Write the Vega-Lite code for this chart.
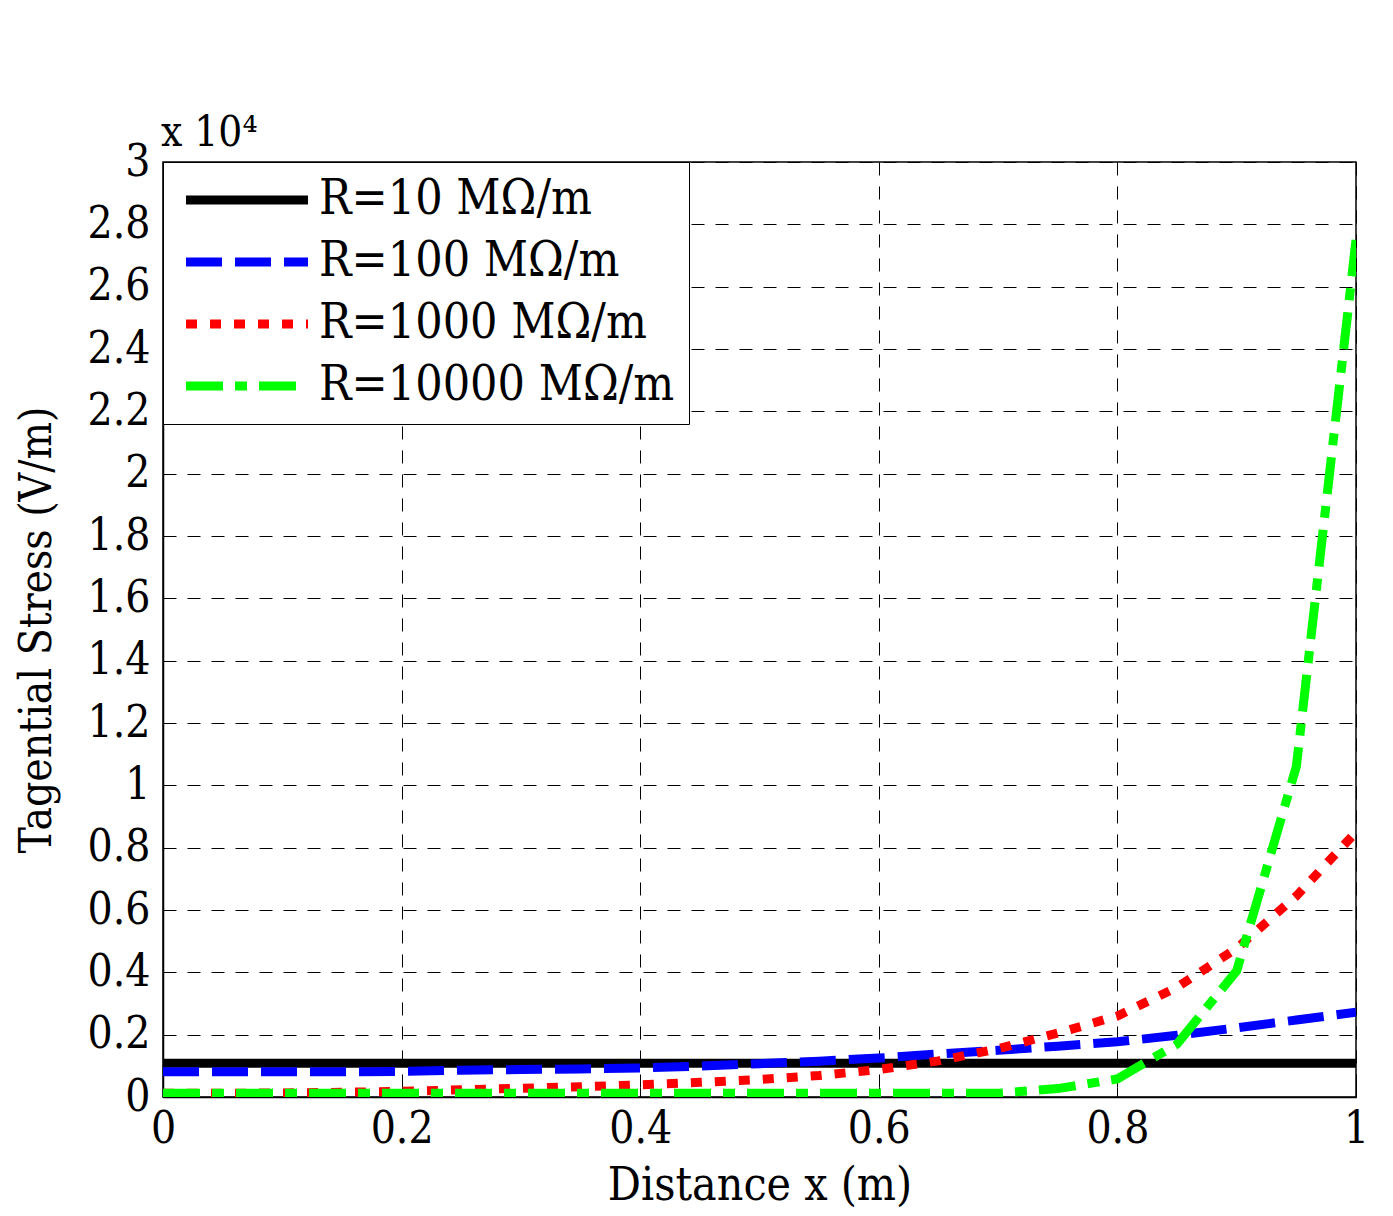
{
  "$schema": "https://vega.github.io/schema/vega-lite/v6.json",
  "width": 1193,
  "height": 935,
  "autosize": {"type": "none"},
  "padding": {"left": 163, "top": 162, "right": 37, "bottom": 119},
  "background": "white",
  "title": {
    "text": "x 10⁴",
    "anchor": "start",
    "frame": "group",
    "font": "DejaVu Serif Condensed",
    "fontSize": 42,
    "fontWeight": "normal",
    "color": "black",
    "offset": -15,
    "dx": -2
  },
  "data": {
    "values": [
      {"x": 0, "y": 0.108, "s": "R=10 MΩ/m"},
      {"x": 0.05, "y": 0.108, "s": "R=10 MΩ/m"},
      {"x": 0.1, "y": 0.108, "s": "R=10 MΩ/m"},
      {"x": 0.15, "y": 0.108, "s": "R=10 MΩ/m"},
      {"x": 0.2, "y": 0.108, "s": "R=10 MΩ/m"},
      {"x": 0.25, "y": 0.108, "s": "R=10 MΩ/m"},
      {"x": 0.3, "y": 0.108, "s": "R=10 MΩ/m"},
      {"x": 0.35, "y": 0.108, "s": "R=10 MΩ/m"},
      {"x": 0.4, "y": 0.108, "s": "R=10 MΩ/m"},
      {"x": 0.45, "y": 0.108, "s": "R=10 MΩ/m"},
      {"x": 0.5, "y": 0.108, "s": "R=10 MΩ/m"},
      {"x": 0.55, "y": 0.108, "s": "R=10 MΩ/m"},
      {"x": 0.6, "y": 0.108, "s": "R=10 MΩ/m"},
      {"x": 0.65, "y": 0.108, "s": "R=10 MΩ/m"},
      {"x": 0.7, "y": 0.108, "s": "R=10 MΩ/m"},
      {"x": 0.75, "y": 0.108, "s": "R=10 MΩ/m"},
      {"x": 0.8, "y": 0.108, "s": "R=10 MΩ/m"},
      {"x": 0.85, "y": 0.108, "s": "R=10 MΩ/m"},
      {"x": 0.9, "y": 0.108, "s": "R=10 MΩ/m"},
      {"x": 0.95, "y": 0.108, "s": "R=10 MΩ/m"},
      {"x": 1, "y": 0.108, "s": "R=10 MΩ/m"},

      {"x": 0, "y": 0.081, "s": "R=100 MΩ/m"},
      {"x": 0.05, "y": 0.081, "s": "R=100 MΩ/m"},
      {"x": 0.1, "y": 0.081, "s": "R=100 MΩ/m"},
      {"x": 0.15, "y": 0.081, "s": "R=100 MΩ/m"},
      {"x": 0.2, "y": 0.082, "s": "R=100 MΩ/m"},
      {"x": 0.25, "y": 0.086, "s": "R=100 MΩ/m"},
      {"x": 0.3, "y": 0.088, "s": "R=100 MΩ/m"},
      {"x": 0.35, "y": 0.09, "s": "R=100 MΩ/m"},
      {"x": 0.4, "y": 0.093, "s": "R=100 MΩ/m"},
      {"x": 0.45, "y": 0.099, "s": "R=100 MΩ/m"},
      {"x": 0.5, "y": 0.107, "s": "R=100 MΩ/m"},
      {"x": 0.55, "y": 0.115, "s": "R=100 MΩ/m"},
      {"x": 0.6, "y": 0.125, "s": "R=100 MΩ/m"},
      {"x": 0.65, "y": 0.138, "s": "R=100 MΩ/m"},
      {"x": 0.7, "y": 0.15, "s": "R=100 MΩ/m"},
      {"x": 0.75, "y": 0.163, "s": "R=100 MΩ/m"},
      {"x": 0.8, "y": 0.177, "s": "R=100 MΩ/m"},
      {"x": 0.85, "y": 0.198, "s": "R=100 MΩ/m"},
      {"x": 0.9, "y": 0.222, "s": "R=100 MΩ/m"},
      {"x": 0.95, "y": 0.247, "s": "R=100 MΩ/m"},
      {"x": 1, "y": 0.272, "s": "R=100 MΩ/m"},

      {"x": 0, "y": 0.012, "s": "R=1000 MΩ/m"},
      {"x": 0.05, "y": 0.012, "s": "R=1000 MΩ/m"},
      {"x": 0.1, "y": 0.013, "s": "R=1000 MΩ/m"},
      {"x": 0.15, "y": 0.015, "s": "R=1000 MΩ/m"},
      {"x": 0.2, "y": 0.018, "s": "R=1000 MΩ/m"},
      {"x": 0.25, "y": 0.023, "s": "R=1000 MΩ/m"},
      {"x": 0.3, "y": 0.028, "s": "R=1000 MΩ/m"},
      {"x": 0.35, "y": 0.033, "s": "R=1000 MΩ/m"},
      {"x": 0.4, "y": 0.039, "s": "R=1000 MΩ/m"},
      {"x": 0.45, "y": 0.047, "s": "R=1000 MΩ/m"},
      {"x": 0.5, "y": 0.056, "s": "R=1000 MΩ/m"},
      {"x": 0.55, "y": 0.069, "s": "R=1000 MΩ/m"},
      {"x": 0.6, "y": 0.088, "s": "R=1000 MΩ/m"},
      {"x": 0.65, "y": 0.116, "s": "R=1000 MΩ/m"},
      {"x": 0.7, "y": 0.155, "s": "R=1000 MΩ/m"},
      {"x": 0.75, "y": 0.205, "s": "R=1000 MΩ/m"},
      {"x": 0.8, "y": 0.26, "s": "R=1000 MΩ/m"},
      {"x": 0.85, "y": 0.352, "s": "R=1000 MΩ/m"},
      {"x": 0.9, "y": 0.477, "s": "R=1000 MΩ/m"},
      {"x": 0.95, "y": 0.645, "s": "R=1000 MΩ/m"},
      {"x": 1, "y": 0.85, "s": "R=1000 MΩ/m"},

      {"x": 0, "y": 0.012, "s": "R=10000 MΩ/m"},
      {"x": 0.05, "y": 0.012, "s": "R=10000 MΩ/m"},
      {"x": 0.1, "y": 0.012, "s": "R=10000 MΩ/m"},
      {"x": 0.15, "y": 0.012, "s": "R=10000 MΩ/m"},
      {"x": 0.2, "y": 0.012, "s": "R=10000 MΩ/m"},
      {"x": 0.25, "y": 0.012, "s": "R=10000 MΩ/m"},
      {"x": 0.3, "y": 0.012, "s": "R=10000 MΩ/m"},
      {"x": 0.35, "y": 0.012, "s": "R=10000 MΩ/m"},
      {"x": 0.4, "y": 0.012, "s": "R=10000 MΩ/m"},
      {"x": 0.45, "y": 0.012, "s": "R=10000 MΩ/m"},
      {"x": 0.5, "y": 0.012, "s": "R=10000 MΩ/m"},
      {"x": 0.55, "y": 0.012, "s": "R=10000 MΩ/m"},
      {"x": 0.6, "y": 0.012, "s": "R=10000 MΩ/m"},
      {"x": 0.65, "y": 0.012, "s": "R=10000 MΩ/m"},
      {"x": 0.7, "y": 0.012, "s": "R=10000 MΩ/m"},
      {"x": 0.75, "y": 0.027, "s": "R=10000 MΩ/m"},
      {"x": 0.8, "y": 0.058, "s": "R=10000 MΩ/m"},
      {"x": 0.85, "y": 0.17, "s": "R=10000 MΩ/m"},
      {"x": 0.9, "y": 0.405, "s": "R=10000 MΩ/m"},
      {"x": 0.95, "y": 1.06, "s": "R=10000 MΩ/m"},
      {"x": 1, "y": 2.75, "s": "R=10000 MΩ/m"}
    ]
  },
  "mark": {"type": "line", "strokeWidth": 9, "strokeCap": "butt", "strokeJoin": "miter", "clip": true},
  "encoding": {
    "x": {
      "field": "x",
      "type": "quantitative",
      "scale": {"domain": [0, 1], "nice": false, "zero": false},
      "axis": {
        "title": "Distance x (m)",
        "values": [0, 0.2, 0.4, 0.6, 0.8, 1],
        "format": "~g",
        "labelPadding": 20,
        "titleFontSize": 46,
        "titlePadding": 12
      }
    },
    "y": {
      "field": "y",
      "type": "quantitative",
      "scale": {"domain": [0, 3], "nice": false},
      "axis": {
        "title": "Tagential Stress (V/m)",
        "values": [0, 0.2, 0.4, 0.6, 0.8, 1, 1.2, 1.4, 1.6, 1.8, 2, 2.2, 2.4, 2.6, 2.8, 3],
        "format": "~g",
        "labelPadding": 23,
        "titlePadding": 28
      }
    },
    "color": {
      "field": "s",
      "type": "nominal",
      "scale": {
        "domain": ["R=10 MΩ/m", "R=100 MΩ/m", "R=1000 MΩ/m", "R=10000 MΩ/m"],
        "range": ["#000000", "#0000ff", "#ff0000", "#00ff00"]
      },
      "legend": {
        "title": null,
        "orient": "top-left",
        "offset": 0
      }
    },
    "strokeDash": {
      "field": "s",
      "type": "nominal",
      "scale": {
        "domain": ["R=10 MΩ/m", "R=100 MΩ/m", "R=1000 MΩ/m", "R=10000 MΩ/m"],
        "range": [[1, 0], [36, 13], [11, 13], [37, 12, 12, 12]]
      },
      "legend": {
        "title": null,
        "orient": "top-left",
        "offset": 0
      }
    }
  },
  "config": {
    "font": "DejaVu Serif Condensed",
    "view": {"stroke": "black", "strokeWidth": 1.5},
    "axis": {
      "domainColor": "black",
      "domainWidth": 1.5,
      "grid": true,
      "gridColor": "black",
      "gridOpacity": 1,
      "gridWidth": 1,
      "gridDash": [13, 11],
      "ticks": true,
      "tickColor": "black",
      "tickSize": -10,
      "labelFlush": false,
      "labelFont": "DejaVu Serif Condensed",
      "labelFontSize": 44,
      "labelColor": "black",
      "titleFont": "DejaVu Serif Condensed",
      "titleFontSize": 44,
      "titleFontWeight": "normal",
      "titleColor": "black"
    },
    "axisY": {"labelBaseline": "middle"},
    "legend": {
      "labelFont": "DejaVu Serif Condensed",
      "labelFontSize": 48,
      "labelColor": "black",
      "labelOffset": 48,
      "symbolType": "M-6.1,0H6.1",
      "symbolSize": 400,
      "symbolOffset": 46,
      "symbolStrokeWidth": 9,
      "strokeColor": "black",
      "fillColor": "white",
      "padding": 14,
      "rowPadding": 14,
      "labelLimit": 600
    }
  }
}
